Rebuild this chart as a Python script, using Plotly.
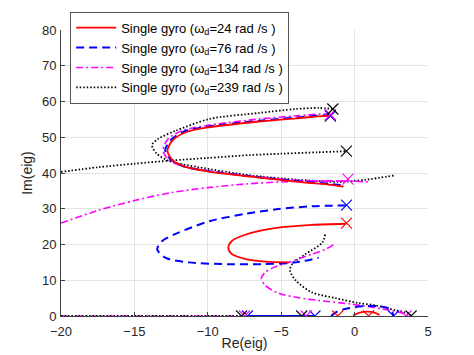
import plotly.graph_objects as go

# ---------------- data ----------------
# red, wd = 24
red_up_x = [-1.65, -2.0, -4.0, -6.5, -9.9, -11.5, -12.4, -12.75, -12.4, -11.5, -9.9, -6.5, -3.5, -1.6, -0.75]
red_up_y = [56.0, 56.0, 55.3, 54.4, 52.8, 51.4, 49.1, 46.2, 43.6, 41.7, 40.4, 38.7, 37.4, 36.7, 36.2]
red_mid_x = [-0.6, -2.9, -5.2, -7.4, -8.35, -8.6, -8.35, -7.4, -6.07, -4.5]
red_mid_y = [25.8, 25.5, 24.7, 22.8, 21.0, 19.1, 17.3, 15.9, 15.2, 15.0]
red_low_x = [-0.1, 0.3, 0.9, 1.4, 1.7]
red_low_y = [0.1, 0.9, 1.2, 0.9, 0.3]
red_x_poles = [-1.65, -0.55, -1.15, 0.95]
red_y_poles = [56.0, 26.0, 0.0, 0.0]

# blue, wd = 76
blue_up_x = [-1.65, -2.0, -4.0, -6.5, -9.9, -11.6, -12.5, -12.9, -12.5, -11.6, -9.9, -6.5, -3.5, -1.6, -0.7]
blue_up_y = [56.0, 56.1, 55.5, 54.6, 53.0, 51.6, 49.3, 46.4, 43.7, 41.8, 40.5, 38.8, 37.6, 36.9, 36.5]
blue_mid_x = [-0.6, -2.9, -5.2, -7.4, -9.9, -12.0, -13.1, -13.45, -12.9, -11.3, -8.6, -6.3, -4.0, -2.45]
blue_mid_y = [30.9, 30.7, 29.9, 28.6, 26.5, 23.3, 21.0, 18.7, 16.3, 15.0, 14.5, 14.5, 15.0, 16.3]
blue_low_x = [-1.6, -1.2, -0.5, 0.5, 1.5, 2.2, 2.55, 2.65]
blue_low_y = [0.0, 1.2, 2.1, 2.7, 2.8, 2.3, 1.2, 0.0]
blue_real_x = [-7.3, -2.7]
blue_real_y = [0.0, 0.0]
blue_x_poles = [-1.65, -0.55, -7.3, -2.7, 2.65]
blue_y_poles = [56.0, 31.0, 0.0, 0.0, 0.0]

# magenta, wd = 134
mag_up_x = [-1.65, -2.0, -4.0, -6.5, -9.9, -11.7, -12.7, -13.05, -12.7, -11.7, -9.9, -6.5, -3.5, -1.6, -0.45]
mag_up_y = [56.3, 56.5, 56.0, 55.1, 53.4, 51.9, 49.6, 46.4, 43.8, 41.9, 40.6, 38.9, 37.9, 37.7, 37.9]
mag_long_x = [-20.0, -17.5, -15.0, -12.5, -10.0, -7.5, -5.0, -2.5, 0.0, 1.1]
mag_long_y = [26.0, 29.5, 32.3, 34.5, 35.9, 36.9, 37.5, 37.8, 37.7, 37.4]
mag_mid_x = [-1.45, -2.0, -2.9, -4.5, -5.5, -6.1, -6.35, -6.1, -5.2, -3.8, -2.45, -0.2, 1.86, 3.0, 3.67]
mag_mid_y = [19.9, 18.6, 17.3, 15.0, 13.6, 12.2, 10.5, 8.6, 6.4, 5.1, 4.35, 3.3, 2.0, 1.1, 0.2]
mag_real_x = [-20.0, -7.5]
mag_real_y = [0.0, 0.0]
mag_x_poles = [-1.65, -0.45, -7.5, -3.3, 3.5]
mag_y_poles = [56.3, 38.3, 0.0, 0.0, 0.0]

# black, wd = 239
blk_up_x = [-1.48, -2.45, -4.0, -6.5, -9.9, -12.2, -13.4, -13.8, -13.5, -12.65, -10.6, -7.2, -3.8, -1.1, 0.73, 2.8]
blk_up_y = [57.9, 58.2, 57.9, 56.8, 55.1, 51.8, 49.5, 47.8, 45.5, 43.4, 41.6, 39.4, 38.1, 37.5, 38.1, 39.4]
blk_long_x = [-20.0, -17.5, -15.0, -12.5, -10.0, -7.2, -5.0, -2.5, -0.56]
blk_long_y = [40.3, 41.6, 42.6, 43.5, 44.2, 45.0, 45.4, 45.8, 46.1]
blk_mid_x = [-2.0, -2.2, -3.35, -4.26, -4.4, -4.0, -2.9, -1.3, 0.27, 1.4, 2.8, 3.67, 3.85]
blk_mid_y = [22.8, 20.5, 17.3, 14.5, 12.7, 9.9, 6.6, 5.0, 3.6, 3.0, 1.6, 0.7, 0.1]
blk_real_x = [-20.0, -7.7]
blk_real_y = [0.0, 0.0]
blk_x_poles = [-1.48, -0.56, -7.7, -3.6, 3.85]
blk_y_poles = [57.9, 46.1, 0.0, 0.0, 0.0]

labels = [
    "Single gyro (ω<sub>d</sub>=24 rad /s )",
    "Single gyro (ω<sub>d</sub>=76 rad /s )",
    "Single gyro (ω<sub>d</sub>=134 rad /s )",
    "Single gyro (ω<sub>d</sub>=239 rad /s )",
]

x_ticks = [-20, -15, -10, -5, 0, 5]
y_ticks = [0, 10, 20, 30, 40, 50, 60, 70, 80]

# ---------------- styles ----------------
RED = "#ff0000"
BLUE = "#0000ff"
MAG = "#ff00ff"
BLK = "#000000"

styles = {
    "red": dict(color=RED, width=1.8, dash="solid"),
    "blue": dict(color=BLUE, width=2.0, dash="8px,5px"),
    "mag": dict(color=MAG, width=1.6, dash="7px,3px,2px,3px"),
    "blk": dict(color=BLK, width=1.8, dash="1.5px,2px"),
}

fig = go.Figure()


def branch(x, y, st, name=None, show=False, group=None, shape="spline"):
    fig.add_trace(go.Scatter(
        x=x, y=y, mode="lines", line=dict(**st, shape=shape, smoothing=0.8),
        name=name, showlegend=show, legendgroup=group, hoverinfo="skip"))


def poles(x, y, color, group):
    fig.add_trace(go.Scatter(
        x=x, y=y, mode="markers", showlegend=False, legendgroup=group,
        marker=dict(symbol="x-thin-open", size=11, color=color,
                    line=dict(color=color, width=1.1)),
        hoverinfo="skip"))


# real-axis segments first (below)
branch(mag_real_x, mag_real_y, styles["mag"], group="m", shape="linear")
branch(blk_real_x, blk_real_y, styles["blk"], group="k", shape="linear")
branch(blue_real_x, blue_real_y, dict(color=BLUE, width=2.0, dash="solid"), group="b", shape="linear")

# black
branch(blk_up_x, blk_up_y, styles["blk"], group="k")
branch(blk_long_x, blk_long_y, styles["blk"], group="k")
branch(blk_mid_x, blk_mid_y, styles["blk"], group="k")
# magenta
branch(mag_up_x, mag_up_y, styles["mag"], group="m")
branch(mag_long_x, mag_long_y, styles["mag"], group="m")
branch(mag_mid_x, mag_mid_y, styles["mag"], group="m")
# blue
branch(blue_up_x, blue_up_y, styles["blue"], group="b")
branch(blue_mid_x, blue_mid_y, styles["blue"], group="b")
branch(blue_low_x, blue_low_y, styles["blue"], group="b")
# red
branch(red_up_x, red_up_y, styles["red"], group="r")
branch(red_mid_x, red_mid_y, styles["red"], group="r")
branch(red_low_x, red_low_y, styles["red"], group="r")

# poles
poles(red_x_poles, red_y_poles, RED, "r")
poles(blue_x_poles, blue_y_poles, BLUE, "b")
poles(mag_x_poles, mag_y_poles, MAG, "m")
poles(blk_x_poles, blk_y_poles, BLK, "k")

# legend entries (order red, blue, magenta, black)
for key, lab, grp in zip(["red", "blue", "mag", "blk"], labels, ["r", "b", "m", "k"]):
    fig.add_trace(go.Scatter(x=[None], y=[None], mode="lines", line=styles[key],
                             name=lab, showlegend=True, legendgroup=grp))

axis_common = dict(
    showline=True, linecolor="#404040", linewidth=1,
    ticks="inside", ticklen=4, tickcolor="#404040",
    showgrid=True, gridcolor="#e3e3e3", gridwidth=1,
    zeroline=False, mirror=False, automargin=False,
    tickfont=dict(family="Liberation Sans, Arial, sans-serif", size=13, color="#262626"),
    title_font=dict(family="Liberation Sans, Arial, sans-serif", size=14, color="#262626"),
)

fig.update_layout(
    width=474, height=355,
    margin=dict(l=61, r=46, t=27, b=39),
    paper_bgcolor="white", plot_bgcolor="white",
    xaxis=dict(range=[-20, 5], tickvals=x_ticks, ticklabelstandoff=3,
               title=dict(text="Re(eig)", standoff=0), **axis_common),
    yaxis=dict(range=[0, 80], tickvals=y_ticks, ticklabelstandoff=1,
               title=dict(text="Im(eig)", standoff=6), **axis_common),
    legend=dict(
        x=0.025, y=1.064, xanchor="left", yanchor="top",
        bgcolor="white", bordercolor="#555555", borderwidth=1,
        font=dict(family="Liberation Sans, Arial, sans-serif", size=13, color="#000000"),
        tracegroupgap=0, itemwidth=40,
    ),
)

fig.write_html("out.html", config={"displayModeBar": False},
               post_script="document.body.style.margin='0';document.body.style.padding='0';")
